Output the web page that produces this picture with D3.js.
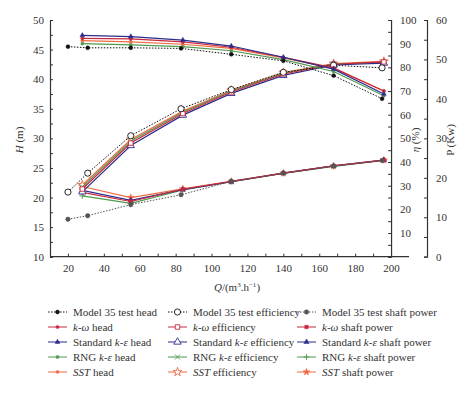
<!DOCTYPE html>
<html>
<head>
<meta charset="utf-8">
<script src="https://cdn.jsdelivr.net/npm/d3@7"></script>
<style>
  body { margin: 0; background: #fff; }
  svg text { font-family: "Liberation Serif", "DejaVu Serif", serif; fill: #333; }
</style>
</head>
<body>
<svg id="chart"></svg>
<script>
// flow rates (m3/h)
const testQ = [20, 31, 55, 83, 111, 140, 168, 195];
const cfdQ = [28, 55, 84, 111, 140, 168, 196];

// head H (m)
const testHead = [45.5, 45.3, 45.3, 45.2, 44.2, 43.1, 40.6, 36.7];
const kwHead = [46.9, 46.8, 46.3, 45.4, 43.7, 41.9, 38.0];
const stdHead = [47.4, 47.2, 46.6, 45.6, 43.7, 41.7, 37.5];
const rngHead = [46.0, 45.8, 45.5, 44.8, 43.3, 41.3, 37.2];
const sstHead = [46.5, 46.3, 45.9, 45.2, 43.6, 41.8, 38.0];

// efficiency eta (%)
const testEff = [27.3, 35.3, 51.1, 62.5, 70.6, 77.9, 80.9, 79.8];
const kwEff = [28.6, 48.0, 60.5, 69.6, 77.2, 81.3, 82.3];
const stdEff = [27.4, 47.0, 59.8, 69.0, 76.6, 81.0, 81.8];
const rngEff = [29.5, 48.8, 61.0, 70.0, 77.5, 81.4, 82.0];
const sstEff = [30.3, 49.5, 61.5, 70.3, 77.8, 81.6, 82.5];

// shaft power P (kW)
const testPow = [9.5, 10.4, 13.2, 15.7, 19.1, 21.2, 23.0, 24.4];
const kwPow = [16.3, 14.0, 17.1, 19.1, 21.2, 23.0, 24.5];
const stdPow = [16.8, 14.3, 17.0, 19.0, 21.2, 23.0, 24.5];
const rngPow = [15.4, 13.5, 16.9, 19.0, 21.1, 22.9, 24.4];
const sstPow = [17.8, 15.0, 17.2, 19.1, 21.2, 23.0, 24.5];

const xTicks = [20, 40, 60, 80, 100, 120, 140, 160, 180, 200];
const hTicks = [10, 15, 20, 25, 30, 35, 40, 45, 50];
const effTicks = [10, 20, 30, 40, 50, 60, 70, 80, 90, 100];
const powTicks = [0, 10, 20, 30, 40, 50, 60];

const width = 474, height = 395;
const svg = d3.select("#chart").attr("width", width).attr("height", height);

const x = d3.scaleLinear().domain([10, 210]).range([50, 409]);
const yH = d3.scaleLinear().domain([10, 50]).range([256.7, 20]);
const yE = d3.scaleLinear().domain([0, 100]).range([256.7, 20]);
const yP = d3.scaleLinear().domain([0, 60]).range([256.7, 20]);

const axisX = x(200), axisP = 427;

// axes (ticks point inward)
const gx = svg.append("g").attr("transform", `translate(0,${yH(10)})`)
    .call(d3.axisBottom(x).tickValues(d3.range(20, 210, 10)).tickSize(-3).tickFormat(d => xTicks.includes(d) ? d : ""));
const gh = svg.append("g").attr("transform", `translate(${x(10)},0)`)
    .call(d3.axisLeft(yH).tickValues(d3.range(10, 50.1, 2.5)).tickSize(-3).tickFormat(d => hTicks.includes(d) ? d : ""));
const ge = svg.append("g").attr("transform", `translate(${axisX},0)`)
    .call(d3.axisRight(yE).tickValues(d3.range(0, 100.1, 5)).tickSize(-3).tickFormat(d => effTicks.includes(d) ? d : ""));
const gp = svg.append("g").attr("transform", `translate(${axisP},0)`)
    .call(d3.axisRight(yP).tickValues(d3.range(0, 60.1, 5)).tickSize(-3).tickFormat(d => powTicks.includes(d) ? d : ""));

[gx, gh, ge, gp].forEach(g => {
    g.select(".domain").attr("stroke", "#333").attr("stroke-width", 1.2);
    g.selectAll(".tick line").attr("stroke", "#333");
    g.selectAll(".tick text").style("font-size", "11px").attr("fill", "#333");
});
gx.select(".domain").attr("d", `M${x(10)},0H${x(210)}`);
gx.selectAll(".tick text").attr("dy", "1.1em");
gh.selectAll(".tick text").attr("dx", "-3");
ge.selectAll(".tick text").attr("dx", "6");
gp.selectAll(".tick text").attr("dx", "6");

// axis titles
svg.append("text").attr("transform", `translate(23,140) rotate(-90)`).attr("text-anchor", "middle")
    .style("font-size", "11px").html('<tspan font-style="italic">H</tspan> (m)');
svg.append("text").attr("transform", `translate(419,140) rotate(-90)`).attr("text-anchor", "middle")
    .style("font-size", "11px").html('<tspan font-style="italic">η</tspan> (%)');
svg.append("text").attr("transform", `translate(454,140) rotate(-90)`).attr("text-anchor", "middle")
    .style("font-size", "11px").text("P (Kw)");
svg.append("text").attr("x", 237).attr("y", 291).attr("text-anchor", "middle").style("font-size", "11px")
    .html('<tspan font-style="italic">Q</tspan>/(m<tspan dy="-4" font-size="7px">3</tspan><tspan dy="4">.h</tspan><tspan dy="-4" font-size="7px">−1</tspan><tspan dy="4">)</tspan>');

const cBlack = "#111", cGray = "#555", cKw = "#c8283c", cStd = "#2c2c8c", cRng = "#4f9a4f", cSst = "#ee6a44";

const series = [
    { name: "SST shaft power", q: cfdQ, v: sstPow, y: yP, color: cSst, sym: d3.symbolStar, size: 16, fill: true },
    { name: "RNG shaft power", q: cfdQ, v: rngPow, y: yP, color: cRng, sym: d3.symbolPlus, size: 14, stroke: true },
    { name: "Std shaft power", q: cfdQ, v: stdPow, y: yP, color: cStd, sym: d3.symbolTriangle, size: 12, fill: true },
    { name: "kw shaft power", q: cfdQ, v: kwPow, y: yP, color: cKw, sym: d3.symbolSquare, size: 12, fill: true },
    { name: "test shaft power", q: testQ, v: testPow, y: yP, color: cGray, sym: d3.symbolCircle, size: 16, fill: true, dotted: true },
    { name: "SST eff", q: cfdQ, v: sstEff, y: yE, color: cSst, sym: d3.symbolStar, size: 24, open: true },
    { name: "RNG eff", q: cfdQ, v: rngEff, y: yE, color: cRng, sym: d3.symbolTimes, size: 18, stroke: true },
    { name: "Std eff", q: cfdQ, v: stdEff, y: yE, color: cStd, sym: d3.symbolTriangle, size: 24, open: true },
    { name: "kw eff", q: cfdQ, v: kwEff, y: yE, color: cKw, sym: d3.symbolSquare, size: 20, open: true },
    { name: "test eff", q: testQ, v: testEff, y: yE, color: cBlack, sym: d3.symbolCircle, size: 30, open: true, dotted: true },
    { name: "RNG head", q: cfdQ, v: rngHead, y: yH, color: cRng, sym: d3.symbolSquare, size: 7, fill: true },
    { name: "SST head", q: cfdQ, v: sstHead, y: yH, color: cSst, sym: d3.symbolCircle, size: 7, fill: true },
    { name: "kw head", q: cfdQ, v: kwHead, y: yH, color: cKw, sym: d3.symbolCircle, size: 8, fill: true },
    { name: "Std head", q: cfdQ, v: stdHead, y: yH, color: cStd, sym: d3.symbolTriangle, size: 10, fill: true },
    { name: "test head", q: testQ, v: testHead, y: yH, color: cBlack, sym: d3.symbolCircle, size: 12, fill: true, dotted: true }
];

function styleMarker(sel, s) {
    sel.attr("d", d3.symbol().type(s.sym).size(s.size))
        .attr("fill", s.fill ? s.color : (s.open ? "#fff" : "none"))
        .attr("stroke", s.color)
        .attr("stroke-width", s.fill ? 0.5 : 0.9);
}

series.forEach(s => {
    const pts = s.q.map((q, i) => [q, s.v[i]]);
    const line = d3.line().x(d => x(d[0])).y(d => s.y(d[1]));
    svg.append("path").datum(pts).attr("d", line).attr("fill", "none")
        .attr("stroke", s.color).attr("stroke-width", s.dotted ? 1 : 1.2)
        .attr("stroke-dasharray", s.dotted ? "1.5,1.5" : null);
    svg.append("g").selectAll("path").data(pts).join("path")
        .attr("transform", d => `translate(${x(d[0])},${s.y(d[1])})`)
        .call(styleMarker, s);
});

// legend
const bySym = name => series.find(s => s.name === name);
const legendCols = [
    [["test head", "Model 35 test head"], ["kw head", '<tspan font-style="italic">k</tspan>-<tspan font-style="italic">ω</tspan> head'],
     ["Std head", 'Standard <tspan font-style="italic">k</tspan>-<tspan font-style="italic">ε</tspan> head'],
     ["RNG head", 'RNG <tspan font-style="italic">k</tspan>-<tspan font-style="italic">ε</tspan> head'],
     ["SST head", '<tspan font-style="italic">SST</tspan> head']],
    [["test eff", "Model 35 test efficiency"], ["kw eff", '<tspan font-style="italic">k</tspan>-<tspan font-style="italic">ω</tspan> efficiency'],
     ["Std eff", 'Standard <tspan font-style="italic">k</tspan>-<tspan font-style="italic">ε</tspan> efficiency'],
     ["RNG eff", 'RNG <tspan font-style="italic">k</tspan>-<tspan font-style="italic">ε</tspan> efficiency'],
     ["SST eff", '<tspan font-style="italic">SST</tspan> efficiency']],
    [["test shaft power", "Model 35 test shaft power"], ["kw shaft power", '<tspan font-style="italic">k</tspan>-<tspan font-style="italic">ω</tspan> shaft power'],
     ["Std shaft power", 'Standard <tspan font-style="italic">k</tspan>-<tspan font-style="italic">ε</tspan> shaft power'],
     ["RNG shaft power", 'RNG <tspan font-style="italic">k</tspan>-<tspan font-style="italic">ε</tspan> shaft power'],
     ["SST shaft power", '<tspan font-style="italic">SST</tspan> shaft power']]
];
const colX = [48, 168, 297];
legendCols.forEach((col, ci) => {
    col.forEach((item, ri) => {
        const s = bySym(item[0]);
        const g = svg.append("g").attr("transform", `translate(${colX[ci]},${312 + ri * 15})`);
        g.append("line").attr("x1", 0).attr("x2", 19).attr("y1", 0).attr("y2", 0)
            .attr("stroke", s.color).attr("stroke-width", 1)
            .attr("stroke-dasharray", s.dotted ? "1.5,1.5" : null);
        g.append("path").attr("transform", "translate(9.5,0)").call(styleMarker, s);
        g.append("text").attr("x", 25).attr("y", 4).style("font-size", "11px").html(item[1]);
    });
});
</script>
</body>
</html>
